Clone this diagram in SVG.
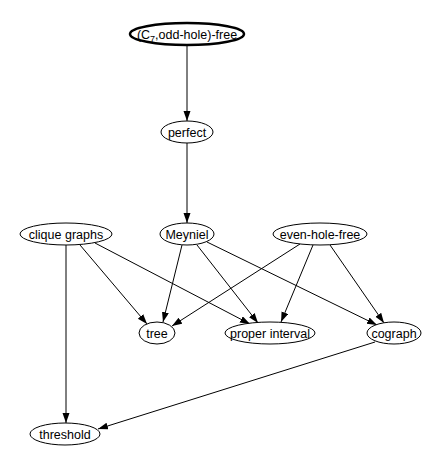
<svg xmlns="http://www.w3.org/2000/svg" width="444" height="468" viewBox="0 0 444 468">
<style>
.n ellipse{fill:#fff;stroke:#000;stroke-width:1}
.n text{font-family:"Liberation Sans",Arial,sans-serif;font-size:12.5px;fill:#000;text-anchor:middle}
.e path{fill:none;stroke:#000;stroke-width:1;marker-end:url(#ah)}
</style>
<defs>
<marker id="ah" markerUnits="userSpaceOnUse" markerWidth="10" markerHeight="8" refX="10" refY="3.5" orient="auto">
<path d="M0,0 L10,3.5 L0,7 z" fill="#000"/>
</marker>
</defs>
<rect width="444" height="468" fill="#fff"/>
<g id="connectors" class="e">
<path d="M187,45 L187,121"/>
<path d="M187,143 L187,223"/>
<path d="M80,245 L147,324"/>
<path d="M95,243 L250,324"/>
<path d="M66,245 L66,423"/>
<path d="M182,245 L163,322"/>
<path d="M197,245 L258,323"/>
<path d="M207,242 L377,325"/>
<path d="M300,244 L172,326"/>
<path d="M313,245 L281,322"/>
<path d="M330,245 L384,323"/>
<path d="M375,342 L98,429"/>
</g>
<g id="c7oddholefree" class="n"><ellipse cx="187" cy="34" rx="57" ry="11" style="stroke-width:2.5"/><text x="187" y="38.5">(C<tspan font-size="9" dy="3">7</tspan><tspan dy="-3">,odd-hole)-free</tspan></text></g>
<g id="perfect" class="n"><ellipse cx="187" cy="132" rx="26" ry="11"/><text x="187" y="136.5">perfect</text></g>
<g id="cliquegraphs" class="n"><ellipse cx="66" cy="234" rx="46" ry="11"/><text x="66" y="238.5">clique graphs</text></g>
<g id="meyniel" class="n"><ellipse cx="187" cy="234" rx="27" ry="11"/><text x="187" y="238.5">Meyniel</text></g>
<g id="evenholefree" class="n"><ellipse cx="320" cy="234" rx="47" ry="11"/><text x="320" y="238.5">even-hole-free</text></g>
<g id="tree" class="n"><ellipse cx="157" cy="333" rx="18" ry="11"/><text x="157" y="337.5">tree</text></g>
<g id="properinterval" class="n"><ellipse cx="270" cy="333" rx="45" ry="11"/><text x="270" y="337.5">proper interval</text></g>
<g id="cograph" class="n"><ellipse cx="394" cy="333" rx="27" ry="11"/><text x="394" y="337.5">cograph</text></g>
<g id="threshold" class="n"><ellipse cx="65" cy="434" rx="35" ry="11"/><text x="65" y="438.5">threshold</text></g>
</svg>
